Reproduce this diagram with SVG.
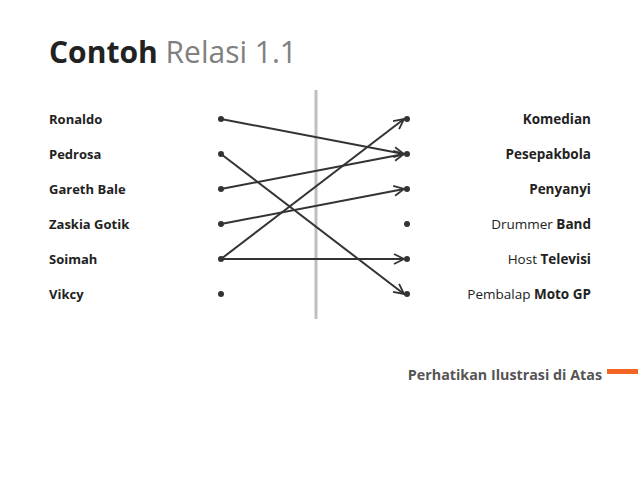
<svg xmlns="http://www.w3.org/2000/svg" width="638" height="478" viewBox="0 0 638 478">
<style>
.lbl{font-family:"Open Sans","Liberation Sans",sans-serif;font-size:13px;fill:#222;font-weight:bold}
.lr{font-family:"Open Sans","Liberation Sans",sans-serif;font-size:13.5px;fill:#222;text-anchor:end}
.b{font-weight:bold}
.dot{fill:#333}
.con{stroke:#333;stroke-width:2;fill:none;marker-end:url(#ah)}
</style>
<defs>
<marker id="ah" viewBox="0 0 12 12" refX="11" refY="6" markerWidth="12" markerHeight="12" markerUnits="userSpaceOnUse" orient="auto">
<path d="M1,1 L11,6 L1,11" fill="none" stroke="#333" stroke-width="1.8"/>
</marker>
</defs>
<rect width="638" height="478" fill="#fff"/>
<text x="49" y="63" font-family="'Open Sans','Liberation Sans',sans-serif" font-size="31" textLength="248" lengthAdjust="spacingAndGlyphs"><tspan font-weight="bold" fill="#222">Contoh</tspan><tspan fill="#808080"> Relasi 1.1</tspan></text>
<line x1="316" y1="90" x2="316" y2="319" stroke="#bfbfbf" stroke-width="3"/>
<g id="left">
<g id="n-ronaldo"><text class="lbl" x="49" y="124">Ronaldo</text><circle class="dot" cx="221" cy="119" r="3"/></g>
<g id="n-pedrosa"><text class="lbl" x="49" y="159">Pedrosa</text><circle class="dot" cx="221" cy="154" r="3"/></g>
<g id="n-gareth"><text class="lbl" x="49" y="194">Gareth Bale</text><circle class="dot" cx="221" cy="189" r="3"/></g>
<g id="n-zaskia"><text class="lbl" x="49" y="229">Zaskia Gotik</text><circle class="dot" cx="221" cy="224" r="3"/></g>
<g id="n-soimah"><text class="lbl" x="49" y="264">Soimah</text><circle class="dot" cx="221" cy="259" r="3"/></g>
<g id="n-vikcy"><text class="lbl" x="49" y="299">Vikcy</text><circle class="dot" cx="221" cy="294" r="3"/></g>
</g>
<g id="right">
<g id="n-komedian"><text class="lr b" x="591" y="124">Komedian</text><circle class="dot" cx="407" cy="119" r="3"/></g>
<g id="n-pesepakbola"><text class="lr b" x="591" y="159">Pesepakbola</text><circle class="dot" cx="407" cy="154" r="3"/></g>
<g id="n-penyanyi"><text class="lr b" x="591" y="194">Penyanyi</text><circle class="dot" cx="407" cy="189" r="3"/></g>
<g id="n-drummer"><text class="lr" x="591" y="229">Drummer <tspan class="b">Band</tspan></text><circle class="dot" cx="407" cy="224" r="3"/></g>
<g id="n-host"><text class="lr" x="591" y="264">Host <tspan class="b">Televisi</tspan></text><circle class="dot" cx="407" cy="259" r="3"/></g>
<g id="n-pembalap"><text class="lr" x="591" y="299">Pembalap <tspan class="b">Moto GP</tspan></text><circle class="dot" cx="407" cy="294" r="3"/></g>
</g>
<g id="connectors">
<line class="con" x1="221" y1="119" x2="404" y2="154"/>
<line class="con" x1="221" y1="154" x2="404" y2="294"/>
<line class="con" x1="221" y1="189" x2="404" y2="154"/>
<line class="con" x1="221" y1="224" x2="404" y2="189"/>
<line class="con" x1="221" y1="259" x2="404" y2="119"/>
<line class="con" x1="221" y1="259" x2="404" y2="259"/>
</g>
<g id="footer">
<text x="602" y="380" text-anchor="end" font-family="'Open Sans','Liberation Sans',sans-serif" font-size="14.3" font-weight="bold" fill="#555">Perhatikan Ilustrasi di Atas</text>
<rect x="607" y="369" width="31" height="5" fill="#f26522"/>
</g>
</svg>
